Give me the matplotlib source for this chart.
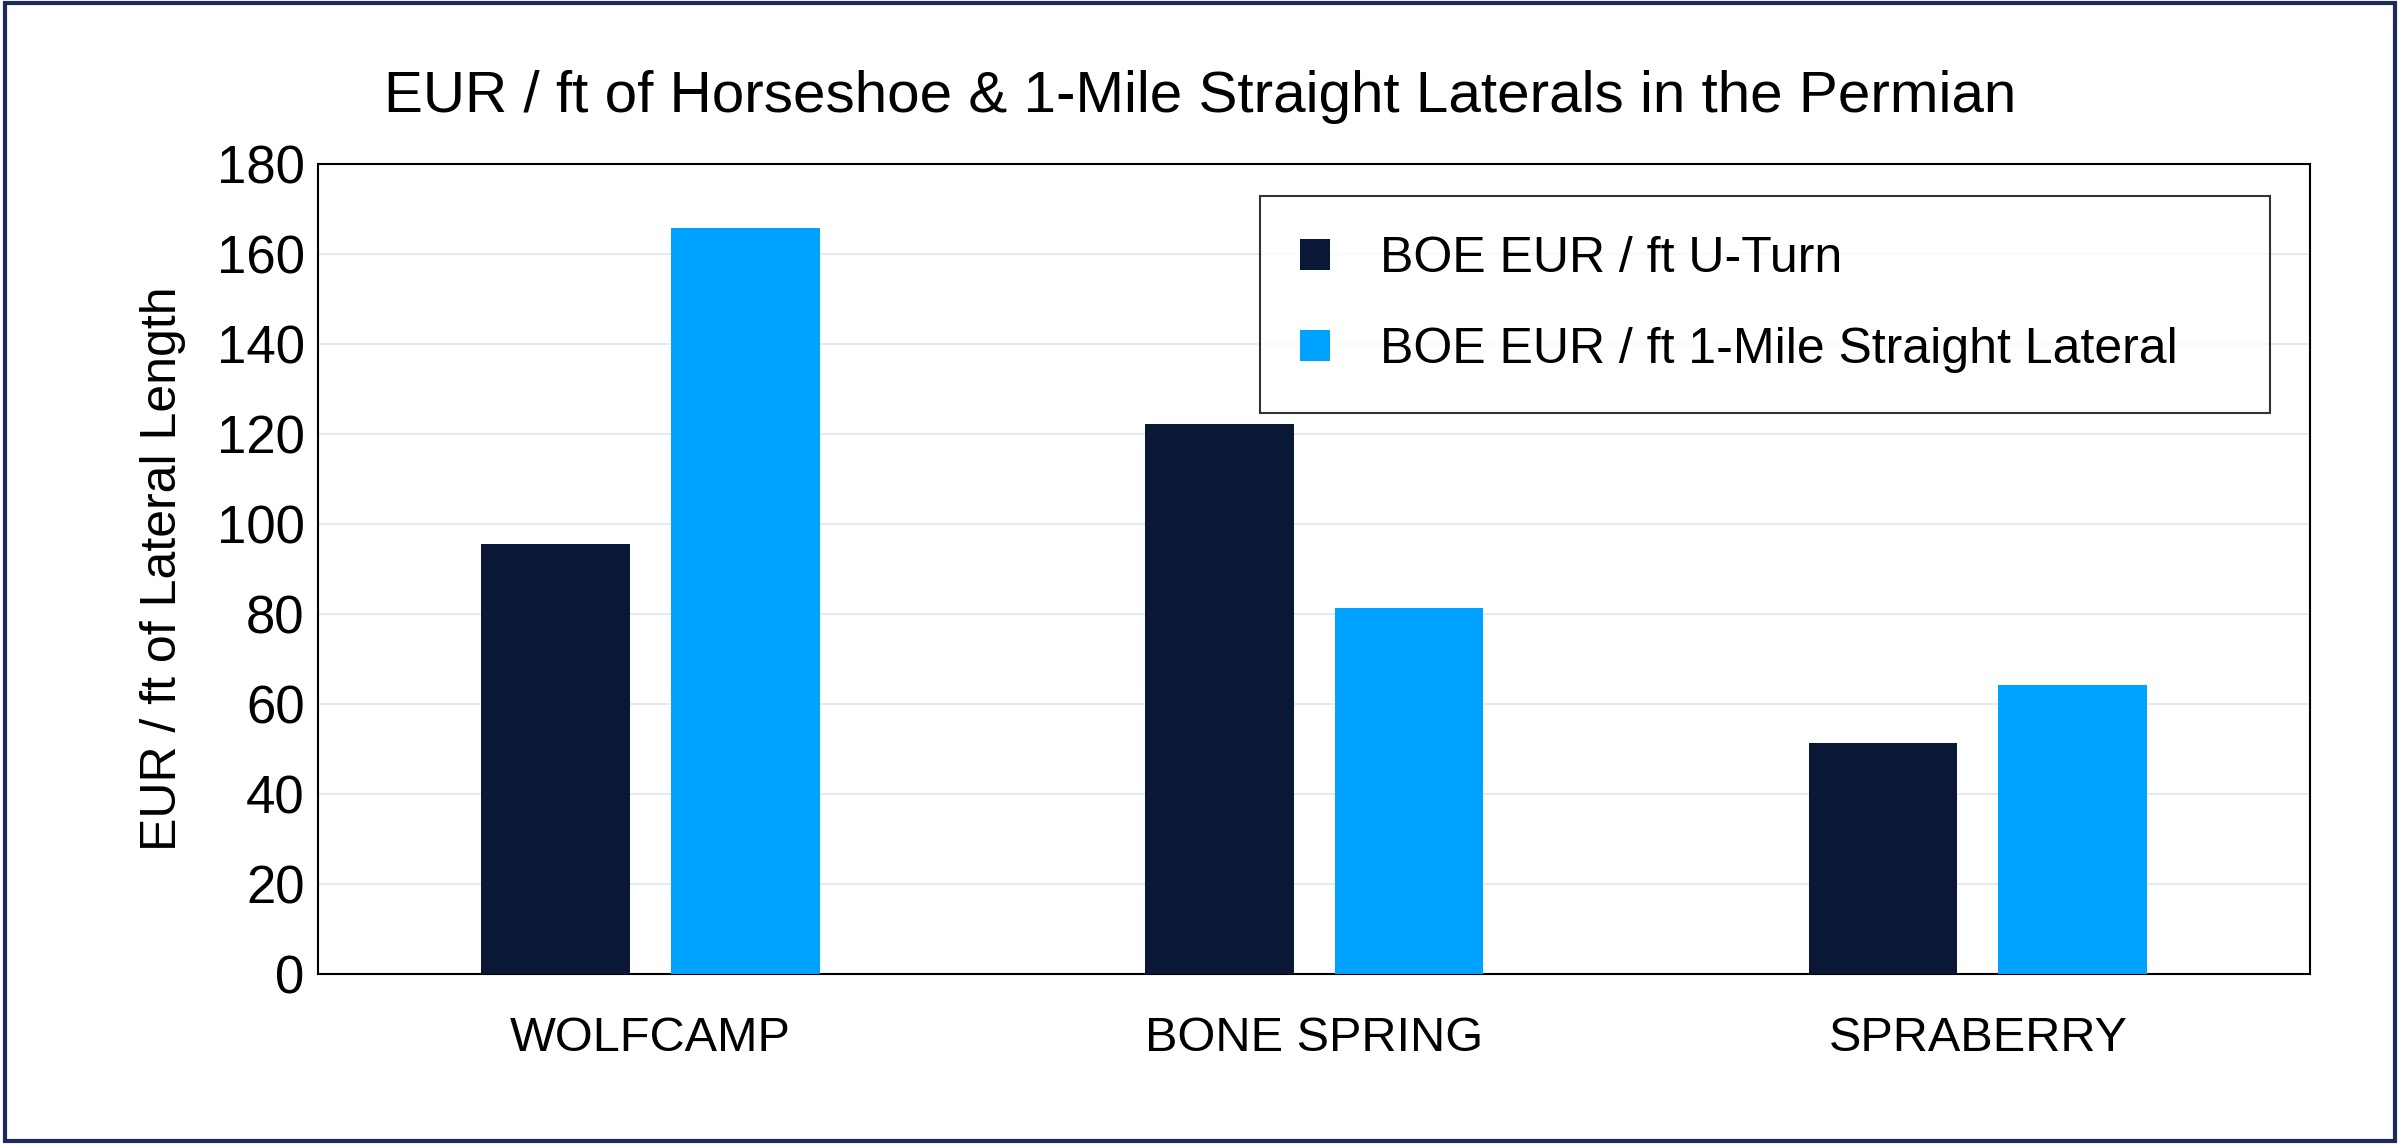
import matplotlib.pyplot as plt
import numpy as np
from matplotlib.patches import Rectangle

plt.rcParams['font.family'] = ['Liberation Sans', 'DejaVu Sans']

categories = ['WOLFCAMP', 'BONE SPRING', 'SPRABERRY']
uturn = [95.5, 122.2, 51.4]
straight = [165.6, 81.2, 64.2]
series_names = ['BOE EUR / ft U-Turn', 'BOE EUR / ft 1-Mile Straight Lateral']

fig = plt.figure(figsize=(24, 11.44), dpi=100)
ax = fig.add_axes([0.1327, 0.1486, 0.8297, 0.7084])

x = np.arange(len(categories))
w = 0.224
ax.bar(x - 0.143, uturn, w, color='#0b1736', label=series_names[0], zorder=3)
ax.bar(x + 0.143, straight, w, color='#00a2ff', label=series_names[1], zorder=3)

ax.set_xlim(-0.5, 2.5)
ax.set_ylim(0, 180)
ax.set_yticks(range(0, 181, 20))
ax.set_xticks(x)
ax.set_xticklabels(categories)
ax.tick_params(axis='y', length=0, labelsize=38, pad=10)
ax.tick_params(axis='x', length=0, labelsize=35, pad=30)
ax.yaxis.grid(True, color='#e6e8f5', linewidth=1.5, zorder=0)
for s in ax.spines.values():
    s.set_color('black')
    s.set_linewidth(1.5)

ax.set_ylabel('EUR / ft of Lateral Length', fontsize=36, labelpad=22)
fig.text(0.5, 0.915, 'EUR / ft of Horseshoe & 1-Mile Straight Laterals in the Permian',
         ha='center', va='center', fontsize=42)

leg = ax.legend(loc='upper left', bbox_to_anchor=(0.473, 0.705, 0.507, 0.255),
                mode='expand', fontsize=36, frameon=True, fancybox=False,
                edgecolor='black', handlelength=0.6, handleheight=0.6,
                labelspacing=0.9, borderpad=0.8, handletextpad=1.0, borderaxespad=0)
leg.get_frame().set_linewidth(1.5)

fig.patches.append(Rectangle((0.002, 0.003), 0.996, 0.994, transform=fig.transFigure,
                             fill=False, edgecolor='#1a2b55', linewidth=3))

fig.savefig('out.png', dpi=100)
